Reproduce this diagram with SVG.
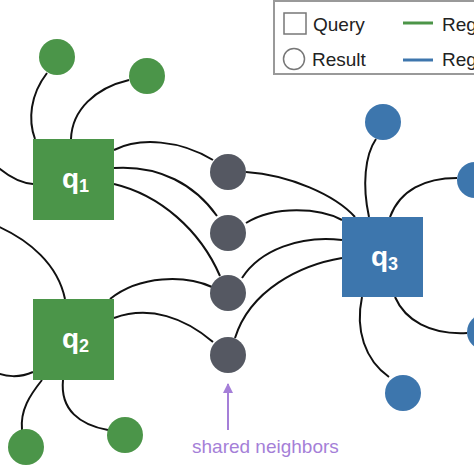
<svg xmlns="http://www.w3.org/2000/svg" width="474" height="474" viewBox="0 0 474 474">
<defs>
<style>
.e{fill:none;stroke:#111;stroke-width:2}
.g{fill:#4c9548}
.b{fill:#3e76ad}
.n{fill:#545962}
.lbl{font-family:"Liberation Sans",Arial,sans-serif;font-weight:bold;fill:#fff}
.lg{font-family:"Liberation Sans",Arial,sans-serif;font-size:19px;fill:#222}
</style>
<filter id="sh" x="-20%" y="-20%" width="140%" height="140%"><feGaussianBlur stdDeviation="0.7"/></filter>
<marker id="ar" viewBox="0 0 10 10" refX="9" refY="5" markerWidth="5" markerHeight="5" orient="auto"><path d="M0,0 L10,5 L0,10 z" fill="#a57fd8"/></marker>
</defs>
<rect width="474" height="474" fill="#fff"/>
<g id="connectors">
<path class="e" d="M47,73 C30,95 28,120 35,139"/>
<path class="e" d="M129,80 C95,88 72,110 71,139"/>
<path class="e" d="M114,150 C140,137 180,140 213,160"/>
<path class="e" d="M114,168 C160,165 195,185 217,216"/>
<path class="e" d="M114,184 C160,195 200,230 220,276"/>
<path class="e" d="M-10,160 C5,175 20,183 33,184"/>
<path class="e" d="M-5,225 C30,240 58,265 65,299"/>
<path class="e" d="M110,299 C140,275 185,275 212,287"/>
<path class="e" d="M114,318 C150,305 185,318 213,342"/>
<path class="e" d="M33,372 C20,378 5,377 -5,372"/>
<path class="e" d="M42,380 C30,395 20,410 22,430"/>
<path class="e" d="M63,380 C60,410 80,425 108,430"/>
<path class="e" d="M246,172 C290,175 335,195 355,217"/>
<path class="e" d="M246,223 C275,205 320,208 342,220"/>
<path class="e" d="M242,278 C260,250 300,235 342,240"/>
<path class="e" d="M235,338 C250,290 300,265 342,258"/>
<path class="e" d="M369,217 C362,185 365,155 376,139"/>
<path class="e" d="M390,217 C400,190 425,178 457,178"/>
<path class="e" d="M395,297 C405,320 430,335 467,333"/>
<path class="e" d="M362,297 C355,330 365,360 389,377"/>
<line x1="228" y1="430" x2="228" y2="384" stroke="#a57fd8" stroke-width="2" marker-end="url(#ar)"/>
</g>
<g id="g1"><circle class="g" cx="57" cy="57" r="18" filter="url(#sh)"/></g>
<g id="g2"><circle class="g" cx="147" cy="76" r="18" filter="url(#sh)"/></g>
<g id="g3"><circle class="g" cx="26" cy="447" r="18" filter="url(#sh)"/></g>
<g id="g4"><circle class="g" cx="125" cy="435" r="18" filter="url(#sh)"/></g>
<g id="n1"><circle class="n" cx="228" cy="172" r="18" filter="url(#sh)"/></g>
<g id="n2"><circle class="n" cx="228" cy="233" r="18" filter="url(#sh)"/></g>
<g id="n3"><circle class="n" cx="228" cy="293" r="18" filter="url(#sh)"/></g>
<g id="n4"><circle class="n" cx="228" cy="355" r="18" filter="url(#sh)"/></g>
<g id="b1"><circle class="b" cx="383" cy="122" r="18" filter="url(#sh)"/></g>
<g id="b2"><circle class="b" cx="475" cy="180" r="18" filter="url(#sh)"/></g>
<g id="b3"><circle class="b" cx="485" cy="332" r="18" filter="url(#sh)"/></g>
<g id="b4"><circle class="b" cx="403" cy="393" r="18" filter="url(#sh)"/></g>
<g id="q1"><rect class="g" x="33" y="139" width="81" height="81" filter="url(#sh)"/><text class="lbl" x="62" y="188" font-size="28">q<tspan font-size="18" dy="4">1</tspan></text></g>
<g id="q2"><rect class="g" x="33" y="299" width="81" height="81" filter="url(#sh)"/><text class="lbl" x="62" y="348" font-size="28">q<tspan font-size="18" dy="4">2</tspan></text></g>
<g id="q3"><rect class="b" x="342" y="217" width="81" height="80" filter="url(#sh)"/><text class="lbl" x="371" y="266" font-size="28">q<tspan font-size="18" dy="4">3</tspan></text></g>
<g id="annotation"><text x="192" y="453" font-family="Liberation Sans, Arial, sans-serif" font-size="19" fill="#a57fd8">shared neighbors</text></g>
<g id="legend">
<rect x="274" y="1" width="210" height="73" fill="#fff" stroke="#999" stroke-width="2"/>
<rect x="284" y="13" width="22" height="21" fill="#fff" stroke="#777" stroke-width="1.5"/>
<text class="lg" x="313" y="31">Query</text>
<circle cx="294" cy="59" r="10.5" fill="#fff" stroke="#777" stroke-width="1.5"/>
<text class="lg" x="312" y="66">Result</text>
<line x1="403" y1="23" x2="433" y2="23" stroke="#4c9548" stroke-width="3"/>
<text class="lg" x="442" y="31">Reg</text>
<line x1="403" y1="60" x2="433" y2="60" stroke="#3e76ad" stroke-width="3"/>
<text class="lg" x="442" y="66">Reg</text>
</g>
</svg>
